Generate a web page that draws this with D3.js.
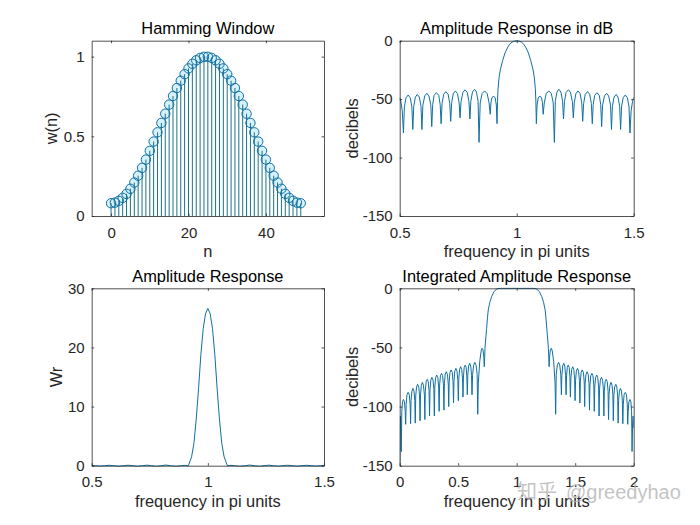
<!DOCTYPE html>
<html>
<head>
<meta charset="utf-8">
<script src="https://cdnjs.cloudflare.com/ajax/libs/d3/7.8.5/d3.min.js"></script>
<style>
    html, body { margin: 0; padding: 0; background: #fff; }
    svg { display: block; font-family: "Liberation Sans", Arial, sans-serif; }
</style>
</head>
<body>
<div id="chart"></div>
<script>
// values
const windowValues = [
    0.08, 0.084, 0.095, 0.114, 0.139, 0.171, 0.21, 0.253, 0.302, 0.354,
    0.409, 0.467, 0.525, 0.584, 0.642, 0.699, 0.753, 0.803, 0.849, 0.89,
    0.926, 0.955, 0.977, 0.992, 0.999, 0.999, 0.992, 0.977, 0.955, 0.926,
    0.89, 0.849, 0.803, 0.753, 0.699, 0.642, 0.584, 0.525, 0.467, 0.409,
    0.354, 0.302, 0.253, 0.21, 0.171, 0.139, 0.114, 0.095, 0.084, 0.08
];

const responseDb = [
    [.5,-48.5],[.505,-52],[.511,-60],[.516,-79],
    [.52,-56.7],[.527,-48.8],[.536,-46.5],[.545,-48.8],[.552,-56.7],[.556,-76],
    [.56,-56.2],[.567,-48.3],[.575,-46],[.584,-48.3],[.591,-56.2],[.595,-76],
    [.599,-55.2],[.607,-47.3],[.616,-45],[.625,-47.3],[.633,-55.2],[.637,-73.5],
    [.641,-54.7],[.647,-46.8],[.657,-44.5],[.667,-46.8],[.673,-54.7],[.677,-71],
    [.681,-53.8],[.688,-45.9],[.697,-43.6],[.707,-45.9],[.714,-53.8],[.718,-69],
    [.722,-53.2],[.729,-45.3],[.738,-43],[.747,-45.3],[.754,-53.2],[.758,-66],
    [.762,-52.2],[.77,-44.3],[.779,-42],[.789,-44.3],[.796,-52.2],[.8,-67],
    [.804,-51.8],[.811,-43.9],[.82,-41.6],[.828,-43.9],[.835,-51.8],[.839,-87],
    [.844,-53.2],[.852,-45.3],[.863,-43],[.874,-45.3],[.882,-53.2],[.887,-63],
    [.89,-53],[.894,-49],[.901,-47.3],[.908,-49],[.913,-55],[.916,-71],
    [.918,-52],[.92,-42],[.925,-31],[.93,-25],[.94,-17],[.95,-10.5],[.96,-6.2],[.97,-3],[.98,-1.2],[.99,-.3],
    [1,0],
    [1.01,-.3],[1.02,-1.2],[1.03,-3],[1.04,-6.2],[1.05,-10.5],[1.06,-17],[1.07,-25],[1.075,-31],[1.08,-42],[1.082,-52],
    [1.084,-71],[1.087,-55],[1.092,-49],[1.099,-47.3],[1.106,-49],[1.11,-53],[1.113,-63],
    [1.118,-53.2],[1.126,-45.3],[1.137,-43],[1.148,-45.3],[1.156,-53.2],[1.161,-87],
    [1.165,-51.8],[1.172,-43.9],[1.18,-41.6],[1.189,-43.9],[1.196,-51.8],[1.2,-67],
    [1.204,-52.2],[1.211,-44.3],[1.221,-42],[1.23,-44.3],[1.238,-52.2],[1.242,-66],
    [1.246,-53.2],[1.253,-45.3],[1.262,-43],[1.271,-45.3],[1.278,-53.2],[1.282,-69],
    [1.286,-53.8],[1.293,-45.9],[1.303,-43.6],[1.312,-45.9],[1.319,-53.8],[1.323,-71],
    [1.327,-54.7],[1.333,-46.8],[1.343,-44.5],[1.353,-46.8],[1.359,-54.7],[1.363,-73.5],
    [1.367,-55.2],[1.375,-47.3],[1.384,-45],[1.393,-47.3],[1.401,-55.2],[1.405,-76],
    [1.409,-56.2],[1.416,-48.3],[1.425,-46],[1.433,-48.3],[1.44,-56.2],[1.444,-76],
    [1.448,-56.7],[1.455,-48.8],[1.464,-46.5],[1.473,-48.8],[1.48,-56.7],[1.484,-79],
    [1.489,-60],[1.495,-52],[1.5,-48.5]
];

const responseWr = [
    [.5,.05],[.516,0],[.536,-.06],[.556,0],[.575,.07],[.595,0],[.616,-.08],[.637,0],
    [.657,.08],[.677,0],[.697,-.09],[.718,0],[.738,.09],[.758,0],[.779,-.1],[.8,0],
    [.82,.11],[.839,0],[.863,-.09],[.887,0],[.901,.06],[.916,0],
    [.93,1.5],[.94,3.75],[.95,7.9],[.96,13],[.97,18.8],[.98,23.2],[.99,25.7],[1,26.6],
    [1.01,25.7],[1.02,23.2],[1.03,18.8],[1.04,13],[1.05,7.9],[1.06,3.75],[1.07,1.5],
    [1.084,0],[1.099,.06],[1.113,0],[1.137,-.09],[1.161,0],[1.18,.11],[1.2,0],
    [1.221,-.1],[1.242,0],[1.262,.09],[1.282,0],[1.303,-.09],[1.323,0],[1.343,.08],
    [1.363,0],[1.384,-.08],[1.405,0],[1.425,.07],[1.444,0],[1.464,-.06],[1.484,0],[1.5,.05]
];

const integratedDb = [
    [0,-150],[.002,-125],[.005,-108],[.009,-112],[.0137,-138],
    [.018,-104],[.024,-96],[.032,-94],[.041,-96],[.047,-104],[.051,-115],
    [.055,-98],[.062,-90],[.072,-88],[.082,-90],[.089,-98],[.093,-114.5],
    [.097,-95],[.104,-87],[.113,-84.6],[.122,-87],[.129,-95],[.133,-114],
    [.137,-91],[.144,-83.5],[.153,-81.2],[.163,-83.5],[.17,-91],[.174,-112],
    [.178,-90],[.185,-82],[.194,-79.5],[.203,-82],[.211,-90],[.215,-111],
    [.219,-87],[.226,-79],[.235,-77],[.244,-79],[.251,-87],[.255,-108],
    [.259,-85.5],[.266,-77.6],[.275,-75.3],[.285,-77.6],[.292,-85.5],[.296,-108],
    [.3,-83.5],[.307,-75.6],[.316,-73.3],[.326,-75.6],[.333,-83.5],[.337,-104],
    [.341,-82],[.348,-74],[.357,-71.9],[.367,-74],[.374,-82],[.378,-103],
    [.382,-80.7],[.389,-72.8],[.398,-70.5],[.408,-72.8],[.415,-80.7],[.419,-100],
    [.423,-79],[.43,-71],[.44,-69],[.449,-71],[.456,-79],[.46,-97],
    [.464,-78],[.471,-70],[.48,-67.7],[.49,-70],[.497,-78],[.501,-95],
    [.505,-76.5],[.512,-68.6],[.521,-66.3],[.53,-68.6],[.537,-76.5],[.541,-92],
    [.545,-75],[.551,-67],[.56,-65],[.568,-67],[.574,-75],[.578,-90],
    [.582,-73.6],[.589,-65.7],[.598,-63.4],[.607,-65.7],[.614,-73.6],[.618,-90],
    [.623,-72.8],[.632,-65],[.642,-62.6],[.653,-65],[.662,-72.8],[.667,-106.5],
    [.672,-80],[.684,-62],[.696,-53],[.704,-50.7],[.712,-52],[.719,-58],[.723,-66.3],
    [.729,-50.7],[.736,-42],[.743,-33.8],[.75,-25],[.757,-18.3],[.77,-12],[.786,-7],[.805,-3],[.829,-.6],[.85,-.1],[.87,0],
    [1,0],
    [1.13,0],[1.15,-.1],[1.171,-.6],[1.195,-3],[1.214,-7],[1.23,-12],[1.243,-18.3],[1.25,-25],[1.257,-33.8],[1.264,-42],[1.271,-50.7],[1.277,-66.3],
    [1.281,-58],[1.288,-52],[1.296,-50.7],[1.304,-53],[1.316,-62],[1.328,-80],[1.333,-106.5],
    [1.338,-72.8],[1.347,-65],[1.358,-62.6],[1.368,-65],[1.377,-72.8],[1.382,-90],
    [1.386,-73.6],[1.393,-65.7],[1.402,-63.4],[1.411,-65.7],[1.418,-73.6],[1.422,-90],
    [1.426,-75],[1.432,-67],[1.44,-65],[1.449,-67],[1.455,-75],[1.459,-92],
    [1.463,-76.5],[1.47,-68.6],[1.479,-66.3],[1.488,-68.6],[1.495,-76.5],[1.499,-95],
    [1.503,-78],[1.51,-70],[1.52,-67.7],[1.529,-70],[1.536,-78],[1.54,-97],
    [1.544,-79],[1.551,-71],[1.56,-69],[1.57,-71],[1.577,-79],[1.581,-100],
    [1.585,-80.7],[1.592,-72.8],[1.602,-70.5],[1.611,-72.8],[1.618,-80.7],[1.622,-103],
    [1.626,-82],[1.633,-74],[1.643,-71.9],[1.652,-74],[1.659,-82],[1.663,-104],
    [1.667,-83.5],[1.674,-75.6],[1.684,-73.3],[1.693,-75.6],[1.7,-83.5],[1.704,-108],
    [1.708,-85.5],[1.715,-77.6],[1.725,-75.3],[1.734,-77.6],[1.741,-85.5],[1.745,-108],
    [1.749,-87],[1.756,-79],[1.765,-77],[1.774,-79],[1.781,-87],[1.785,-111],
    [1.789,-90],[1.797,-82],[1.806,-79.5],[1.815,-82],[1.822,-90],[1.826,-112],
    [1.83,-91],[1.837,-83.5],[1.847,-81.2],[1.856,-83.5],[1.863,-91],[1.867,-114],
    [1.871,-95],[1.878,-87],[1.887,-84.6],[1.896,-87],[1.903,-95],[1.907,-114.5],
    [1.911,-98],[1.918,-90],[1.928,-88],[1.938,-90],[1.945,-98],[1.949,-115],
    [1.953,-104],[1.959,-96],[1.968,-94],[1.976,-96],[1.982,-104],[1.986,-138],
    [1.991,-112],[1.995,-108],[2,-118]
];

const lineColor = '#0f6fa3';
const stemColor = '#1a7488';
const textColor = '#262626';

const svg = d3.select('#chart').append('svg')
    .attr('width', 700)
    .attr('height', 525);

function drawPanel(opts) {
    const { left, right, top, bottom } = opts.box;
    const x = d3.scaleLinear().domain(opts.xDomain).range([left, right]);
    const y = d3.scaleLinear().domain(opts.yDomain).range([bottom, top]);
    const id = 'clip' + left + top;

    // a little slack so a line lying on the axis is not cut in half
    svg.append('clipPath').attr('id', id.replace('.', '_').replace('.', '_'))
        .append('rect')
        .attr('x', left).attr('y', top - 1)
        .attr('width', right - left).attr('height', bottom - top + 2);

    const plot = svg.append('g');
    opts.draw(plot, x, y, id.replace('.', '_').replace('.', '_'));

    // axes, box on so ticks are mirrored
    const g = svg.append('g');
    const fmt = (d) => String(d);
    const bottomAxis = d3.axisBottom(x).tickValues(opts.xTicks).tickFormat(fmt).tickSizeInner(-2.5).tickSizeOuter(0).tickPadding(11);
    const leftAxis = d3.axisLeft(y).tickValues(opts.yTicks).tickFormat(fmt).tickSizeInner(-2.5).tickSizeOuter(0).tickPadding(7);
    const topAxis = d3.axisTop(x).tickValues(opts.xTicks).tickFormat('').tickSizeInner(-2.5).tickSizeOuter(0);
    const rightAxis = d3.axisRight(y).tickValues(opts.yTicks).tickFormat('').tickSizeInner(-2.5).tickSizeOuter(0);

    g.append('g').attr('transform', `translate(0,${bottom})`).call(bottomAxis);
    g.append('g').attr('transform', `translate(${left},0)`).call(leftAxis);
    g.append('g').attr('transform', `translate(0,${top})`).call(topAxis);
    g.append('g').attr('transform', `translate(${right},0)`).call(rightAxis);

    g.selectAll('text')
        .attr('fill', textColor)
        .style('font-family', '"Liberation Sans", Arial, sans-serif')
        .style('font-size', '15px');
    g.selectAll('path, line')
        .attr('stroke', textColor)
        .attr('stroke-width', 0.8);

    svg.append('text')
        .attr('x', (left + right) / 2)
        .attr('y', top - 6.5)
        .attr('text-anchor', 'middle')
        .attr('fill', '#000')
        .style('font-size', '16.4px')
        .text(opts.title);

    svg.append('text')
        .attr('x', (left + right) / 2)
        .attr('y', bottom + 41)
        .attr('text-anchor', 'middle')
        .attr('fill', textColor)
        .style('font-size', '16.4px')
        .text(opts.xLabel);

    svg.append('text')
        .attr('transform', `translate(${left - opts.yLabelGap},${(top + bottom) / 2}) rotate(-90)`)
        .attr('text-anchor', 'middle')
        .attr('fill', textColor)
        .style('font-size', '16.4px')
        .text(opts.yLabel);
}

function drawCurve(series) {
    return (plot, x, y, id) => {
        const line = d3.line().x((d) => x(d[0])).y((d) => y(d[1]));
        plot.append('path')
            .datum(series)
            .attr('clip-path', `url(#${id})`)
            .attr('d', line)
            .attr('fill', 'none')
            .attr('stroke', lineColor)
            .attr('stroke-width', 1);
    };
}

const leftCol = { left: 91.7, right: 324 };
const rightCol = { left: 399.7, right: 633.7 };
const topRow = { top: 40.7, bottom: 216 };
const bottomRow = { top: 288.3, bottom: 465.7 };

drawPanel({
    box: { ...leftCol, ...topRow },
    xDomain: [-5, 55], yDomain: [0, 1.1],
    xTicks: [0, 20, 40], yTicks: [0, 0.5, 1],
    title: 'Hamming Window', xLabel: 'n', yLabel: 'w(n)', yLabelGap: 35,
    draw: (plot, x, y) => {
        plot.selectAll('circle.halo')
            .data(windowValues)
            .enter()
            .append('circle')
            .attr('class', 'halo')
            .attr('cx', (d, i) => x(i))
            .attr('cy', (d) => y(d))
            .attr('r', 4.7)
            .attr('fill', '#d6f1fa');
        plot.selectAll('line')
            .data(windowValues)
            .enter()
            .append('line')
            .attr('x1', (d, i) => x(i))
            .attr('x2', (d, i) => x(i))
            .attr('y1', y(0))
            .attr('y2', (d) => y(d))
            .attr('stroke', stemColor)
            .attr('stroke-width', 1);
        plot.selectAll('circle.mark')
            .data(windowValues)
            .enter()
            .append('circle')
            .attr('class', 'mark')
            .attr('cx', (d, i) => x(i))
            .attr('cy', (d) => y(d))
            .attr('r', 4.7)
            .attr('fill', 'none')
            .attr('stroke', lineColor)
            .attr('stroke-width', 1);
    }
});

drawPanel({
    box: { ...rightCol, ...topRow },
    xDomain: [0.5, 1.5], yDomain: [-150, 0],
    xTicks: [0.5, 1, 1.5], yTicks: [-150, -100, -50, 0],
    title: 'Amplitude Response in dB', xLabel: 'frequency in pi units', yLabel: 'decibels', yLabelGap: 42,
    draw: drawCurve(responseDb)
});

drawPanel({
    box: { ...leftCol, ...bottomRow },
    xDomain: [0.5, 1.5], yDomain: [0, 30],
    xTicks: [0.5, 1, 1.5], yTicks: [0, 10, 20, 30],
    title: 'Amplitude Response', xLabel: 'frequency in pi units', yLabel: 'Wr', yLabelGap: 30,
    draw: drawCurve(responseWr)
});

drawPanel({
    box: { ...rightCol, ...bottomRow },
    xDomain: [0, 2], yDomain: [-150, 0],
    xTicks: [0, 0.5, 1, 1.5, 2], yTicks: [-150, -100, -50, 0],
    title: 'Integrated Amplitude Response', xLabel: 'frequency in pi units', yLabel: 'decibels', yLabelGap: 42,
    draw: drawCurve(integratedDb)
});

// site watermark in the lower right corner
svg.append('text')
    .attr('x', 517)
    .attr('y', 499)
    .attr('fill', '#b4b4b4')
    .attr('fill-opacity', 0.8)
    .style('font-family', '"Noto Sans CJK SC", sans-serif')
    .style('font-size', '20px')
    .text('知乎');
svg.append('text')
    .attr('x', 566)
    .attr('y', 499)
    .attr('fill', '#b4b4b4')
    .attr('fill-opacity', 0.8)
    .style('font-size', '20px')
    .text('@greedyhao');
</script>
</body>
</html>
